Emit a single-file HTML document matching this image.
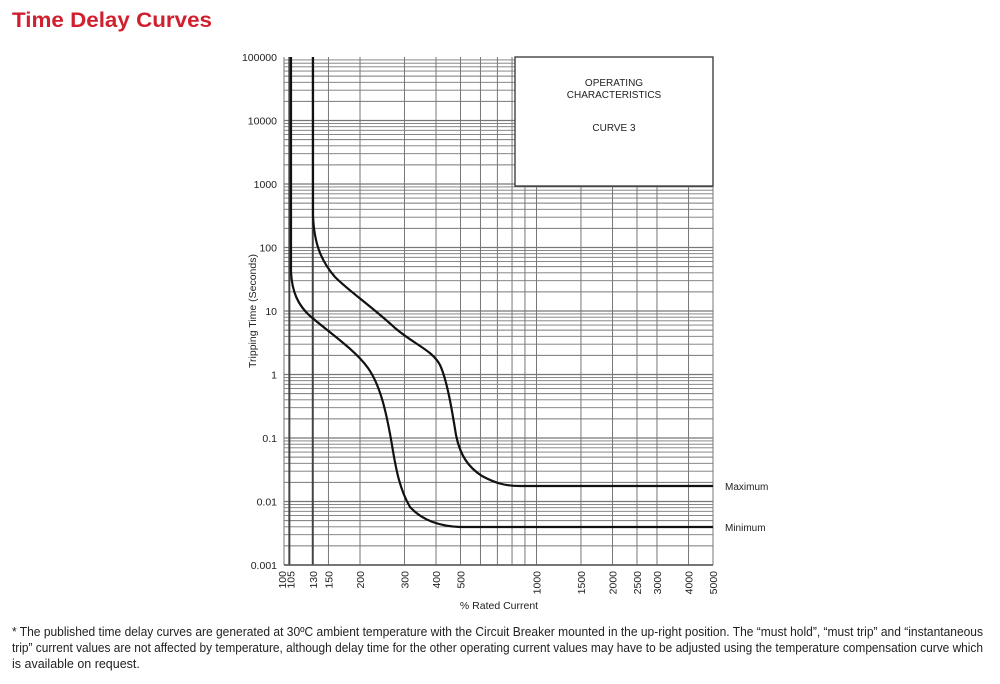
<!DOCTYPE html>
<html><head><meta charset="utf-8"><style>
body{margin:0;background:#fff;width:1000px;height:684px;overflow:hidden;position:relative;font-family:"Liberation Sans",sans-serif}
svg{position:absolute;left:0;top:0}
</style></head><body>
<svg id="s" width="1000" height="684" font-family="Liberation Sans, sans-serif"></svg>
<script>
var s=document.getElementById('s'),h='';
var X=v=>284+252.5*Math.log10(v/100), Y=t=>57+(5-Math.log10(t))*63.5;
h+='<text x="12" y="27" font-size="21" font-weight="bold" fill="#d01f2e" textLength="200" lengthAdjust="spacingAndGlyphs">Time Delay Curves</text>';
for(var d=-3;d<5;d++)for(var m=1;m<10;m++){var y=Y(m*Math.pow(10,d));h+='<line x1="284" x2="713" y1="'+y+'" y2="'+y+'" stroke="#777" stroke-width="'+(m==1?1.3:0.9)+'"/>';}
var xs=[100,105,130,150,200,300,400,500,600,700,800,900,1000,1500,2000,2500,3000,4000,5000];
xs.forEach(v=>{var x=X(v);var b=(v==105||v==130);h+='<line x1="'+x+'" x2="'+x+'" y1="57" y2="565" stroke="'+(b?'#444':'#777')+'" stroke-width="'+(b?2:1)+'"/>';});
h+='<line x1="284" x2="713" y1="565" y2="565" stroke="#555" stroke-width="1.5"/>';
var lab=[100,105,130,150,200,300,400,500,1000,1500,2000,2500,3000,4000,5000];
lab.forEach(v=>{var x=X(v)+4;if(v==100)x-=2;if(v==105)x+=1;h+='<text transform="translate('+x+',571) rotate(-90)" text-anchor="end" font-size="10.5" fill="#222">'+v+'</text>';});
['100000','10000','1000','100','10','1','0.1','0.01','0.001'].forEach((l,i)=>{h+='<text x="277" y="'+(57+i*63.5+4)+'" text-anchor="end" font-size="10.5" fill="#222">'+l+'</text>';});
h+='<rect x="515" y="57" width="198" height="129" fill="#fff" stroke="#333" stroke-width="1.3"/>';
h+='<text x="614" y="86" text-anchor="middle" font-size="10" fill="#222">OPERATING</text><text x="614" y="98" text-anchor="middle" font-size="10" fill="#222">CHARACTERISTICS</text><text x="614" y="131" text-anchor="middle" font-size="10" fill="#222">CURVE 3</text>';
h+='<path d="M291,57 L291,272 C292,292 298,305 310,316 C330,333 355,350 368,368 C380,385 386,410 392,445 C396,470 400,490 410,507 C420,518 435,526 460,527 L713,527" fill="none" stroke="#111" stroke-width="2.2"/>';
h+='<path d="M313,57 L313,215 C314,245 322,262 335,277 C350,292 370,305 395,328 C415,345 432,350 440,365 C447,380 452,410 456,435 C460,455 468,467 482,476 C495,483 505,486 520,486 L713,486" fill="none" stroke="#111" stroke-width="2.2"/>';
h+='<text x="725" y="490" font-size="10" fill="#222">Maximum</text><text x="725" y="531" font-size="10" fill="#222">Minimum</text>';
h+='<text x="499" y="609" text-anchor="middle" font-size="10.5" fill="#222">% Rated Current</text>';
h+='<text transform="translate(256,311) rotate(-90)" text-anchor="middle" font-size="10.5" fill="#222">Tripping Time (Seconds)</text>';
h+='<text x="12" y="636" font-size="12.5" fill="#222" textLength="971" lengthAdjust="spacingAndGlyphs">* The published time delay curves are generated at 30ºC ambient temperature with the Circuit Breaker mounted in the up-right position. The “must hold”, “must trip” and “instantaneous</text>';
h+='<text x="12" y="652" font-size="12.5" fill="#222" textLength="971" lengthAdjust="spacingAndGlyphs">trip” current values are not affected by temperature, although delay time for the other operating current values may have to be adjusted using the temperature compensation curve which</text>';
h+='<text x="12" y="668" font-size="12.5" fill="#222">is available on request.</text>';
s.innerHTML=h;
</script>
</body></html>
